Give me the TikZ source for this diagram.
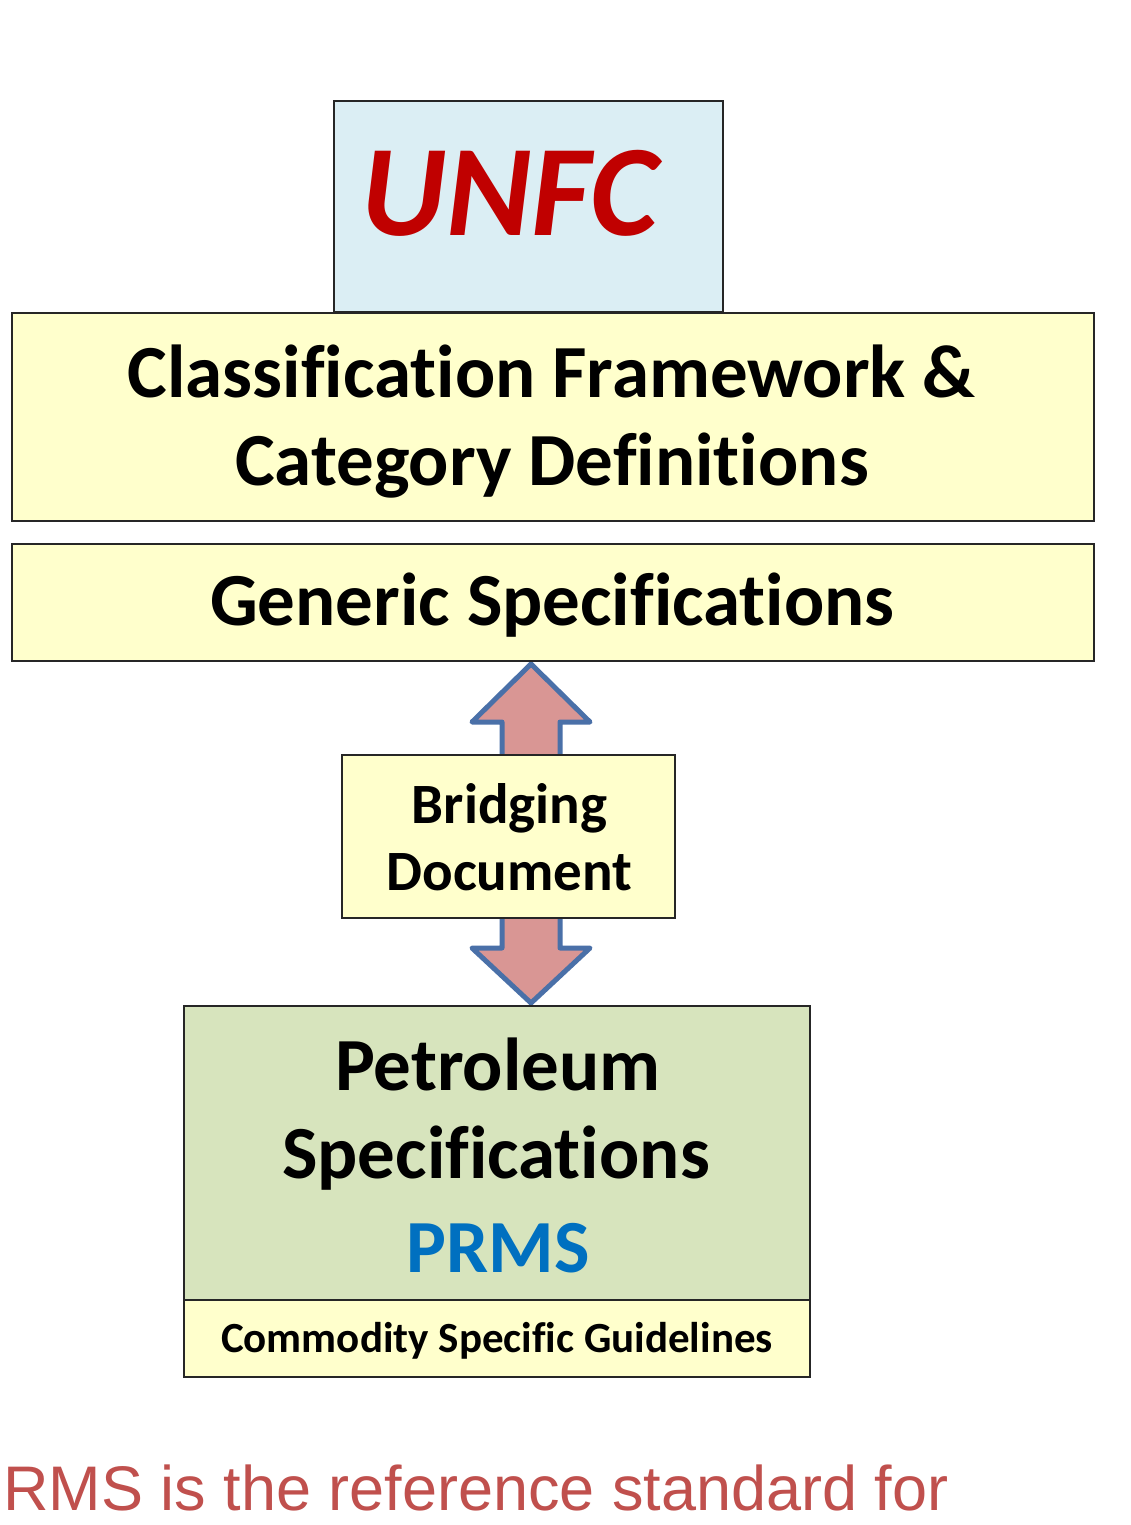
\documentclass[tikz,border=0pt]{standalone}
\usepackage{fontspec}
\setmainfont{Carlito}[Ligatures={NoCommon}]
\newfontfamily\arialf{Liberation Sans}
\usetikzlibrary{calc}
\definecolor{boxyellow}{HTML}{FFFFCC}
\definecolor{boxblue}{HTML}{DBEEF4}
\definecolor{boxgreen}{HTML}{D7E4BD}
\definecolor{unfcred}{HTML}{C00000}
\definecolor{prmsblue}{HTML}{0070C0}
\definecolor{arrowfill}{HTML}{D99694}
\definecolor{arrowline}{HTML}{4A70A8}
\definecolor{notered}{HTML}{C0504D}
\begin{document}
\begin{tikzpicture}[x=1pt,y=-1pt,
  panel/.style={draw=black!85, line width=2pt, inner sep=0pt, outer sep=0pt},
  bigtext/.style={font=\bfseries\fontsize{75}{90}\selectfont, anchor=base, inner sep=0pt},
  midtext/.style={font=\bfseries\fontsize{57}{68}\selectfont, anchor=base, inner sep=0pt},
  smalltext/.style={font=\bfseries\fontsize{43}{50}\selectfont, anchor=base, inner sep=0pt},
  bigarrow/.style={fill=arrowfill, draw=arrowline, line width=5pt, line join=round}]
\useasboundingbox (0,0) rectangle (1131,1525);
\clip (0,0) rectangle (1131,1525);
\fill[white] (0,0) rectangle (1131,1525);

% arrows (drawn first, boxes on top)
\coordinate (upTip) at (531,664);
\coordinate (dnTip) at (531,1003);
\draw[bigarrow] (upTip) -- (590,722) -- (560,722) -- (560,765) -- (502,765) -- (502,722) -- (472,722) -- cycle;
\draw[bigarrow] (502,905) -- (560,905) -- (560,948) -- (590,948) -- (dnTip) -- (472,948) -- (502,948) -- cycle;

% boxes
\node[panel, fill=boxblue, minimum width=389pt, minimum height=211pt] (unfc) at (528.5,206.5) {};
\node[panel, fill=boxyellow, minimum width=1082pt, minimum height=208pt] (cls) at (553,417) {};
\node[panel, fill=boxyellow, minimum width=1082pt, minimum height=117pt] (gen) at (553,602.5) {};
\node[panel, fill=boxyellow, minimum width=333pt, minimum height=163pt] (bridge) at (508.5,836.5) {};
\node[panel, fill=boxgreen, minimum width=626pt, minimum height=294pt] (pet) at (497,1153) {};
\node[panel, fill=boxyellow, minimum width=626pt, minimum height=77pt] (com) at (497,1338.5) {};

% texts
\node[font=\bfseries\itshape\fontsize{130}{150}\selectfont, text=unfcred, anchor=base, inner sep=0pt] (tunfc) at (510,235) {UNFC};
\node[bigtext] (tcls1) at (551.5,397) {Classification Framework \&};
\node[bigtext] (tcls2) at (552,485) {Category Definitions};
\node[bigtext] (tgen) at (552.5,625) {Generic Specifications};
\node[midtext] (tbr1) at (509.5,823) {Bridging};
\node[midtext] (tbr2) at (509.5,890) {Document};
\node[bigtext] (tpet1) at (498,1090) {Petroleum};
\node[bigtext] (tpet2) at (496,1178) {Specifications};
\node[bigtext, text=prmsblue] (tpet3) at (498,1272) {PRMS};
\node[smalltext] (tcom) at (497,1352) {Commodity Specific Guidelines};

\node[font=\arialf\fontsize{63}{70}\selectfont, text=notered, anchor=base west, inner sep=0pt] (note) at (3,1510) {RMS is the reference standard for};
\end{tikzpicture}
\end{document}
